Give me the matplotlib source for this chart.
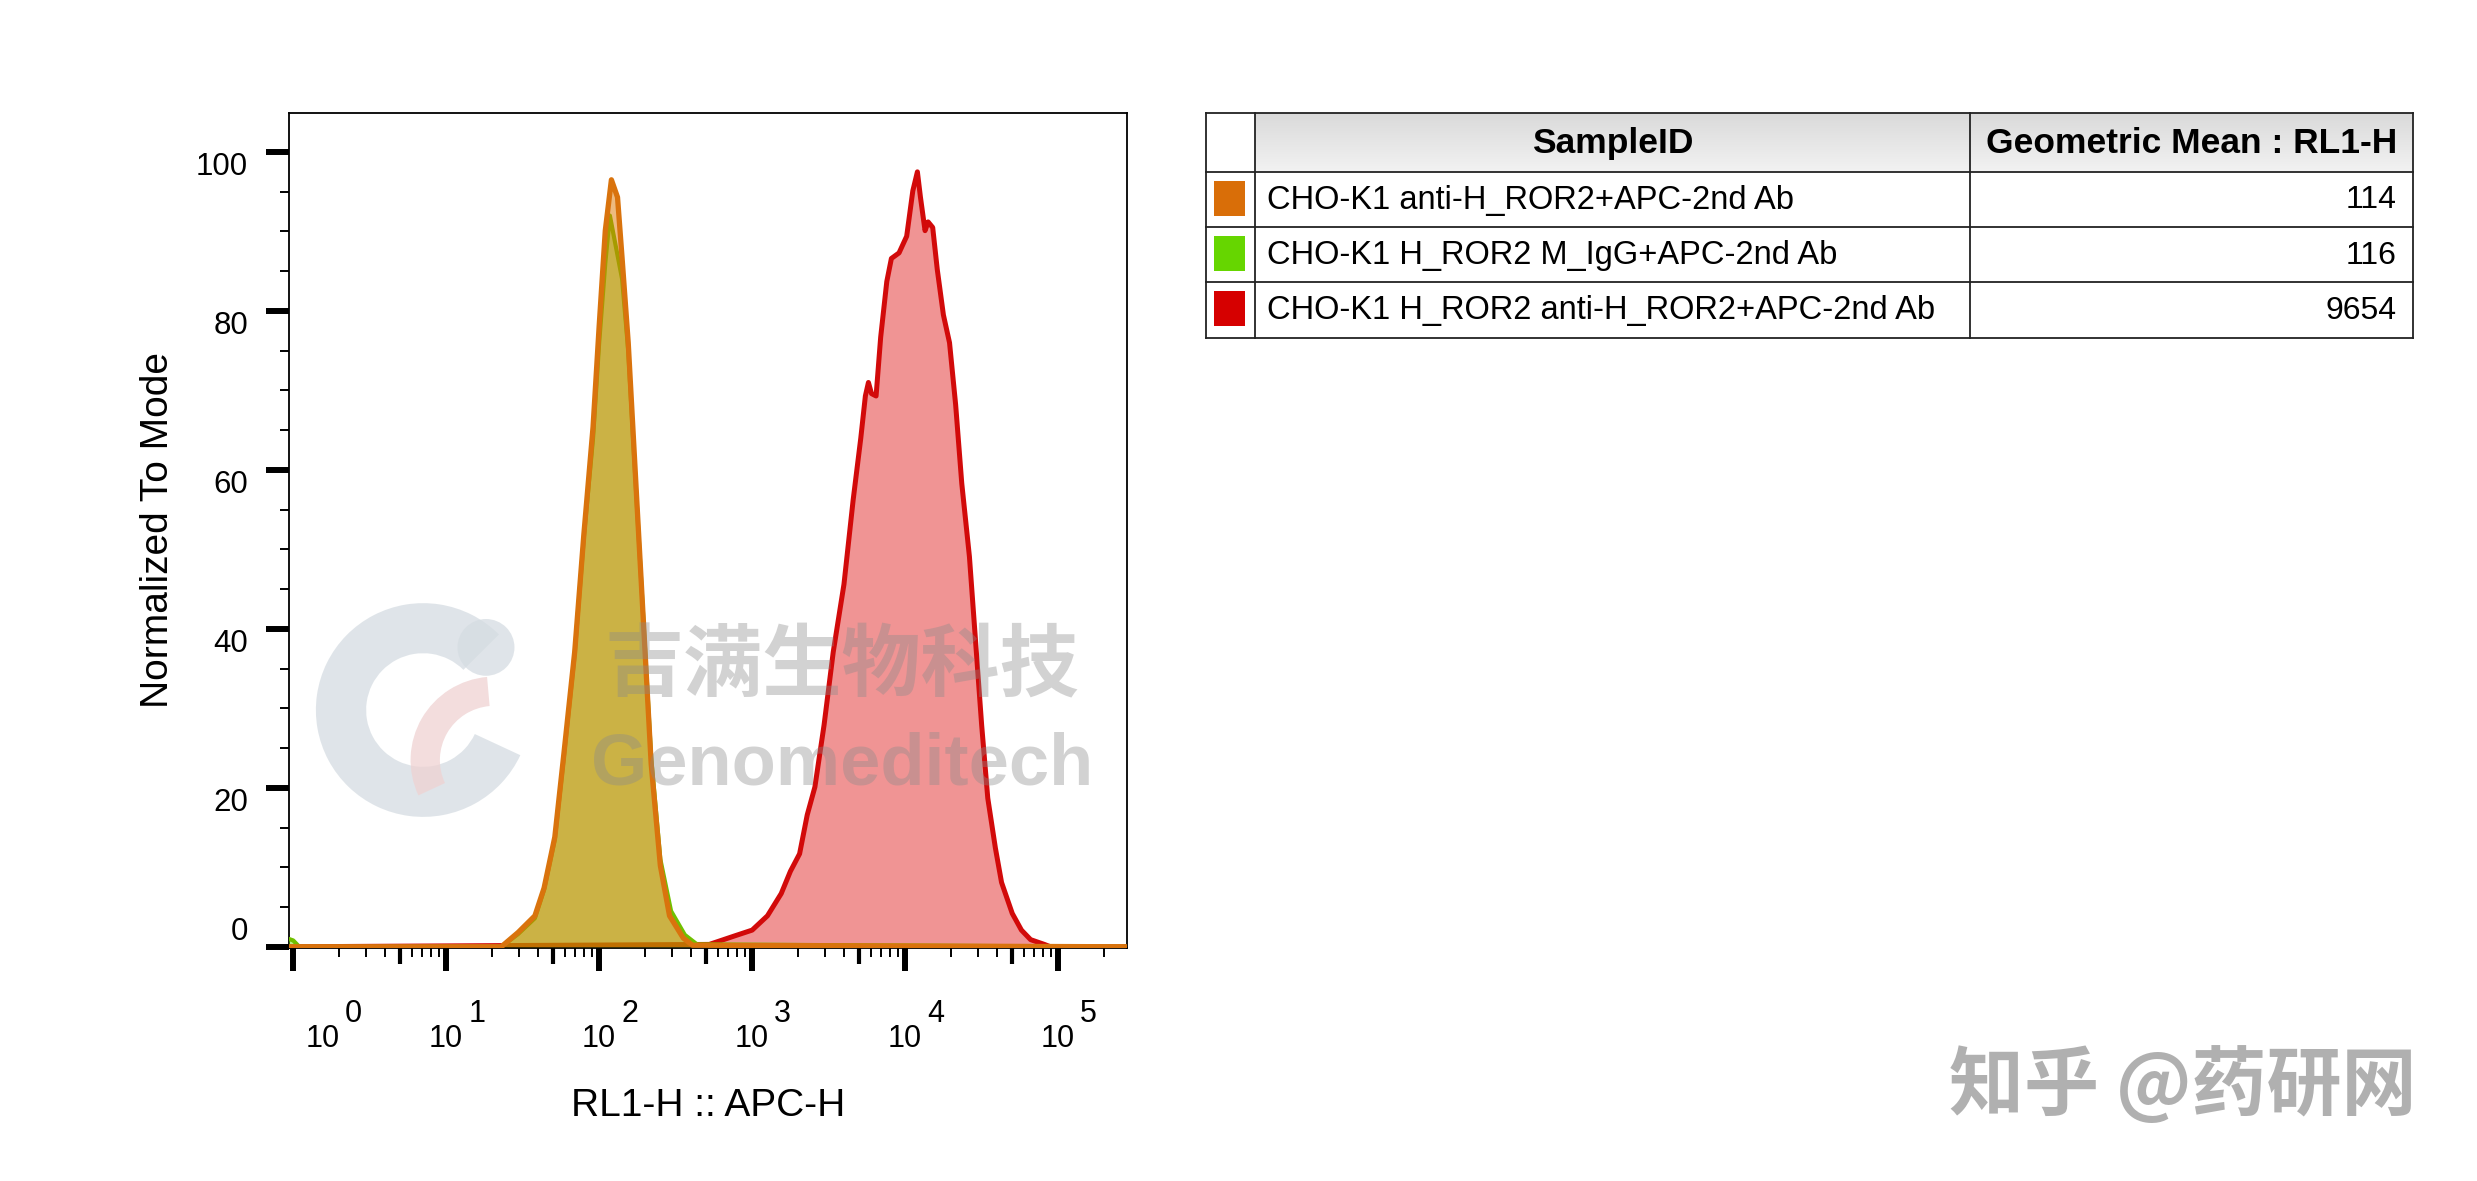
import numpy as np
import matplotlib
matplotlib.use('Agg')
import matplotlib.pyplot as plt
import matplotlib.transforms as mtransforms
from matplotlib.patches import Rectangle, Wedge, Circle

plt.rcParams['font.family'] = ['Liberation Sans', 'DejaVu Sans']

# histogram curves: log10(RL1-H) and % of mode
orange_log = [-0.03, 1.36, 1.47, 1.58, 1.64, 1.71, 1.77, 1.84, 1.90, 1.96, 2.00, 2.04, 2.08,
              2.12, 2.15, 2.19, 2.22, 2.26, 2.30, 2.34, 2.40, 2.46, 2.55, 2.61, 5.46]
orange_y = [0, 0, 1.8, 3.9, 7.4, 13.8, 24.4, 37.1, 51.9, 65.4, 78.1, 90.1, 96.5,
            94.3, 86.6, 76.0, 65.4, 51.2, 37.1, 23.0, 10.2, 3.9, 1.1, 0.2, 0]

green_log = [-0.03, 0.0, 0.04, 1.36, 1.47, 1.58, 1.64, 1.71, 1.77, 1.84, 1.90, 1.96, 2.00, 2.04,
             2.07, 2.11, 2.15, 2.19, 2.22, 2.26, 2.30, 2.34, 2.40, 2.47, 2.56, 2.64, 5.46]
green_y = [1.0, 0.8, 0, 0, 1.6, 3.6, 7.2, 13.5, 24.0, 36.8, 51.5, 64.0, 76.0, 86.0,
           92.0, 88.0, 84.0, 75.0, 64.5, 51.0, 37.5, 23.8, 11.0, 4.5, 1.5, 0.3, 0]

red_log = [-0.03, 2.72, 2.89, 3.00, 3.10, 3.19, 3.25, 3.31, 3.36, 3.41, 3.47, 3.53, 3.60, 3.66,
           3.71, 3.74, 3.76, 3.78, 3.81, 3.84, 3.88, 3.91, 3.96, 4.01, 4.05, 4.08, 4.10, 4.13,
           4.15, 4.18, 4.21, 4.25, 4.29, 4.33, 4.37, 4.42, 4.46, 4.50, 4.54, 4.59, 4.63, 4.70,
           4.76, 4.82, 4.91, 4.95, 5.46]
red_y = [0, 0.3, 1.4, 2.1, 3.9, 6.7, 9.5, 11.7, 16.6, 20.1, 27.9, 37.1, 45.6, 56.2,
         64.0, 69.3, 71.0, 69.6, 69.3, 76.7, 83.7, 86.6, 87.3, 89.4, 95.1, 97.5, 94.3, 90.1,
         91.2, 90.5, 85.2, 79.5, 76.0, 68.2, 58.3, 49.1, 38.5, 27.9, 18.7, 12.4, 8.1, 4.2,
         2.1, 0.9, 0.3, 0, 0]

sample_ids = ['CHO-K1 anti-H_ROR2+APC-2nd Ab',
              'CHO-K1 H_ROR2 M_IgG+APC-2nd Ab',
              'CHO-K1 H_ROR2 anti-H_ROR2+APC-2nd Ab']
geo_means = [114, 116, 9654]
sample_colors = ['#d96e08', '#66d600', '#d60000']

decades = [0, 1, 2, 3, 4, 5]
y_major = [0, 20, 40, 60, 80, 100]

fig = plt.figure(figsize=(24.77, 11.81), dpi=100)
ax = fig.add_axes([0.1167, 0.1973, 0.3383, 0.7070])

# red first, then green, orange on top
ax.fill_between(10 ** np.array(red_log), red_y, color='#dc0000', alpha=0.42, lw=0, zorder=2)
ax.plot(10 ** np.array(red_log), red_y, color='#d20a0a', lw=3.6, zorder=2.1)
ax.fill_between(10 ** np.array(green_log), green_y, color='#66dd00', alpha=0.45, lw=0, zorder=3)
ax.plot(10 ** np.array(green_log), green_y, color='#70c000', lw=3.0, zorder=3.1)
ax.fill_between(10 ** np.array(orange_log), orange_y, color='#dd7700', alpha=0.5, lw=0, zorder=4)
ax.plot(10 ** np.array(orange_log), orange_y, color='#d9730d', lw=3.8, zorder=4.1)

ax.set_xscale('log')

for s in ax.spines.values():
    s.set_linewidth(1.3)

ax.set_yticks(y_major, labels=[str(v) for v in y_major])
ax.set_yticks(np.arange(0, 106, 5), minor=True)
ax.tick_params(axis='y', which='major', length=16.5, width=4.3, labelsize=22.5, pad=13)
ax.tick_params(axis='y', which='minor', length=6.5, width=1.4)
for lab, v in zip(ax.get_yticklabels(), y_major):
    lab.set_va('bottom' if v == 0 else 'top')

ax.set_xticks([10.0 ** d for d in decades])
ax.set_xticklabels([])
minor_x = [m * 10.0 ** d for d in decades for m in (2, 3, 4, 6, 7, 8, 9)]
ax.set_xticks(minor_x, minor=True)
ax.tick_params(axis='x', which='major', length=16.5, width=4.3)
ax.tick_params(axis='x', which='minor', length=6.5, width=1.4, labelbottom=False)

# limits after the ticks so the tick lists do not widen the view
ax.set_xlim(0.94, 2.82e5)
ax.set_ylim(-0.15, 104.9)

# medium ticks at the 5s
sec = ax.secondary_xaxis('bottom')
sec.set_xticks([5 * 10.0 ** d for d in decades])
sec.set_xticklabels([])
sec.xaxis.set_minor_locator(matplotlib.ticker.NullLocator())
sec.tick_params(axis='x', which='major', length=11.5, width=3.0)
sec.spines['bottom'].set_visible(False)

# FlowJo style decade labels
blend = mtransforms.blended_transform_factory(ax.transData, ax.transAxes)
for d in decades:
    shift = 30 if d == 0 else 0
    t_base = mtransforms.offset_copy(blend, fig=fig, x=shift, y=0, units='dots')
    t_sup = mtransforms.offset_copy(blend, fig=fig, x=shift + 22, y=0, units='dots')
    ax.text(10.0 ** d, -0.1186, '10', transform=t_base, ha='center', va='baseline',
            fontsize=22, clip_on=False)
    ax.text(10.0 ** d, -0.0886, str(d), transform=t_sup, ha='left', va='baseline',
            fontsize=22, clip_on=False)

fig.text(708 / 2477, 1 - 1106 / 1181, 'RL1-H :: APC-H', ha='center', va='center', fontsize=28)
fig.text(158 / 2477, 1 - 530 / 1181, 'Normalized To Mode', ha='center', va='center',
         rotation=90, fontsize=28)

# watermark
ax.add_patch(Wedge((0.16, 0.285), 0.128, 45, 335, width=0.06, transform=ax.transAxes,
                   facecolor='#d5dce2', edgecolor='none', alpha=0.75, zorder=5))
ax.add_patch(Circle((0.235, 0.36), 0.034, transform=ax.transAxes,
                    facecolor='#d5dce2', edgecolor='none', alpha=0.75, zorder=5))
ax.add_patch(Wedge((0.245, 0.225), 0.1, 95, 205, width=0.035, transform=ax.transAxes,
                   facecolor='#efd2d2', edgecolor='none', alpha=0.75, zorder=5))
ax.text(0.66, 0.337, '吉满生物科技', transform=ax.transAxes, ha='center', va='center',
        fontsize=57, fontweight='bold', family=['Noto Sans CJK SC'], color='#8a8a8a',
        alpha=0.38, zorder=6)
ax.text(0.66, 0.218, 'Genomeditech', transform=ax.transAxes, ha='center', va='center',
        fontsize=52, fontweight='bold', color='#8a8a8a', alpha=0.38, zorder=6)
fig.text(2183 / 2477, 1 - 1086 / 1181, '知乎 @药研网', ha='center', va='center', fontsize=54,
         fontweight='bold', family=['Noto Sans CJK SC', 'DejaVu Sans'], color='#b0b0b0')

# sample table drawn in pixel units
tab = fig.add_axes([1206 / 2477, 1 - 338 / 1181, 1207 / 2477, 225 / 1181])
tab.set_xlim(0, 1207)
tab.set_ylim(225, 0)
tab.axis('off')
col_x = [0, 49, 764, 1207]
row_y = [0, 59, 114, 169, 225]
shade = np.linspace(218, 242, 50) / 255
grad = np.dstack([shade, shade, shade]).reshape(-1, 1, 3)
tab.imshow(grad, extent=(col_x[1], col_x[3], row_y[1], row_y[0]), aspect='auto', zorder=0)
tab.set_xlim(0, 1207)
tab.set_ylim(225, 0)
for yy in row_y:
    tab.plot([0, 1207], [yy, yy], color='#222222', lw=1.3, clip_on=False)
for xx in col_x:
    tab.plot([xx, xx], [0, 225], color='#222222', lw=1.3, clip_on=False)
tab.text((col_x[1] + col_x[2]) / 2, row_y[1] / 2 + 1, 'SampleID', ha='center', va='center',
         fontsize=25.5, fontweight='bold')
tab.text((col_x[2] + col_x[3]) / 2, row_y[1] / 2 + 1, 'Geometric Mean : RL1-H', ha='center',
         va='center', fontsize=25.5, fontweight='bold')
for i, (name, gm, c) in enumerate(zip(sample_ids, geo_means, sample_colors)):
    top = row_y[i + 1]
    mid = (row_y[i + 1] + row_y[i + 2]) / 2
    tab.add_patch(Rectangle((8, top + 9), 31, 35, facecolor=c, edgecolor='none'))
    tab.text(61, mid + 1, name, ha='left', va='center', fontsize=23.5)
    tab.text(1191, mid + 1, str(gm), ha='right', va='center', fontsize=23)

fig.savefig('out.png', dpi=100)
